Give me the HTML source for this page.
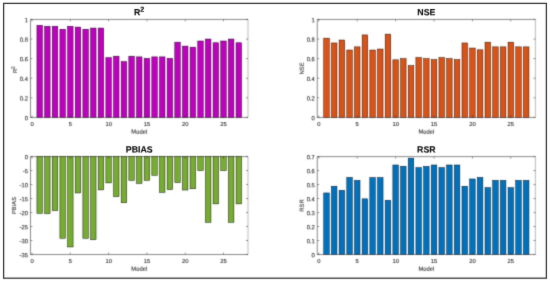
<!DOCTYPE html>
<html><head><meta charset="utf-8"><title>Model performance metrics</title>
<style>
html,body{margin:0;padding:0;background:#fff;}
body{width:550px;height:282px;overflow:hidden;}
svg{display:block;}
.t{font-family:"Liberation Sans",sans-serif;font-size:5.8px;fill:#242424;stroke:#242424;stroke-width:0.08px;}
.ti{font-family:"Liberation Sans",sans-serif;font-size:8.8px;font-weight:bold;fill:#0a0a0a;stroke:#0a0a0a;stroke-width:0.1px;}
</style></head><body>
<svg width="550" height="282" viewBox="0 0 550 282">
<defs><filter id="soft" x="0" y="0" width="550" height="282" filterUnits="userSpaceOnUse"><feConvolveMatrix order="3" kernelMatrix="0.0225 0.1050 0.0225 0.1050 0.4900 0.1050 0.0225 0.1050 0.0225" divisor="1" edgeMode="duplicate" preserveAlpha="false"/></filter><filter id="soft2" x="0" y="0" width="550" height="282" filterUnits="userSpaceOnUse"><feConvolveMatrix order="3" kernelMatrix="0.0081 0.0738 0.0081 0.0738 0.6724 0.0738 0.0081 0.0738 0.0081" divisor="1" edgeMode="duplicate" preserveAlpha="false"/></filter></defs>
<rect x="0" y="0" width="550" height="282" fill="#fff"/>
<g filter="url(#soft)">
<rect x="36.93" y="25.33" width="5.51" height="92.12" fill="#bf00bf" stroke="#000" stroke-width="0.5"/>
<rect x="44.59" y="26.31" width="5.51" height="91.14" fill="#bf00bf" stroke="#000" stroke-width="0.5"/>
<rect x="52.25" y="26.31" width="5.51" height="91.14" fill="#bf00bf" stroke="#000" stroke-width="0.5"/>
<rect x="59.91" y="29.25" width="5.51" height="88.20" fill="#bf00bf" stroke="#000" stroke-width="0.5"/>
<rect x="67.57" y="26.31" width="5.51" height="91.14" fill="#bf00bf" stroke="#000" stroke-width="0.5"/>
<rect x="75.23" y="27.09" width="5.51" height="90.36" fill="#bf00bf" stroke="#000" stroke-width="0.5"/>
<rect x="82.88" y="29.25" width="5.51" height="88.20" fill="#bf00bf" stroke="#000" stroke-width="0.5"/>
<rect x="90.54" y="28.07" width="5.51" height="89.38" fill="#bf00bf" stroke="#000" stroke-width="0.5"/>
<rect x="98.20" y="28.07" width="5.51" height="89.38" fill="#bf00bf" stroke="#000" stroke-width="0.5"/>
<rect x="105.86" y="57.67" width="5.51" height="59.78" fill="#bf00bf" stroke="#000" stroke-width="0.5"/>
<rect x="113.52" y="56.20" width="5.51" height="61.25" fill="#bf00bf" stroke="#000" stroke-width="0.5"/>
<rect x="121.18" y="61.59" width="5.51" height="55.86" fill="#bf00bf" stroke="#000" stroke-width="0.5"/>
<rect x="128.83" y="56.20" width="5.51" height="61.25" fill="#bf00bf" stroke="#000" stroke-width="0.5"/>
<rect x="136.49" y="56.89" width="5.51" height="60.56" fill="#bf00bf" stroke="#000" stroke-width="0.5"/>
<rect x="144.15" y="58.36" width="5.51" height="59.09" fill="#bf00bf" stroke="#000" stroke-width="0.5"/>
<rect x="151.81" y="56.89" width="5.51" height="60.56" fill="#bf00bf" stroke="#000" stroke-width="0.5"/>
<rect x="159.47" y="56.89" width="5.51" height="60.56" fill="#bf00bf" stroke="#000" stroke-width="0.5"/>
<rect x="167.13" y="58.36" width="5.51" height="59.09" fill="#bf00bf" stroke="#000" stroke-width="0.5"/>
<rect x="174.79" y="42.19" width="5.51" height="75.26" fill="#bf00bf" stroke="#000" stroke-width="0.5"/>
<rect x="182.44" y="46.11" width="5.51" height="71.34" fill="#bf00bf" stroke="#000" stroke-width="0.5"/>
<rect x="190.10" y="47.18" width="5.51" height="70.27" fill="#bf00bf" stroke="#000" stroke-width="0.5"/>
<rect x="197.76" y="41.01" width="5.51" height="76.44" fill="#bf00bf" stroke="#000" stroke-width="0.5"/>
<rect x="205.42" y="39.05" width="5.51" height="78.40" fill="#bf00bf" stroke="#000" stroke-width="0.5"/>
<rect x="213.08" y="42.77" width="5.51" height="74.68" fill="#bf00bf" stroke="#000" stroke-width="0.5"/>
<rect x="220.74" y="41.01" width="5.51" height="76.44" fill="#bf00bf" stroke="#000" stroke-width="0.5"/>
<rect x="228.39" y="39.05" width="5.51" height="78.40" fill="#bf00bf" stroke="#000" stroke-width="0.5"/>
<rect x="236.05" y="42.77" width="5.51" height="74.68" fill="#bf00bf" stroke="#000" stroke-width="0.5"/>
<path d="M248.00 19.45H30.50V117.45H248.00" fill="none" stroke="#262626" stroke-width="0.5"/>
<path d="M248.00 19.45V117.45" fill="none" stroke="#262626" stroke-width="0.32"/>
<text transform="translate(32.03 126.05) rotate(0.2) scale(1 1.0)" text-anchor="middle" class="t">0</text>
<text transform="translate(70.32 126.05) rotate(0.2) scale(1 1.0)" text-anchor="middle" class="t">5</text>
<text transform="translate(108.62 126.05) rotate(0.2) scale(1 1.0)" text-anchor="middle" class="t">10</text>
<text transform="translate(146.91 126.05) rotate(0.2) scale(1 1.0)" text-anchor="middle" class="t">15</text>
<text transform="translate(185.20 126.05) rotate(0.2) scale(1 1.0)" text-anchor="middle" class="t">20</text>
<text transform="translate(223.49 126.05) rotate(0.2) scale(1 1.0)" text-anchor="middle" class="t">25</text>
<text transform="translate(27.90 120.15) rotate(0.2) scale(1 1.03)" text-anchor="end" class="t">0</text>
<text transform="translate(27.90 100.55) rotate(0.2) scale(1 1.03)" text-anchor="end" class="t">0.2</text>
<text transform="translate(27.90 80.95) rotate(0.2) scale(1 1.03)" text-anchor="end" class="t">0.4</text>
<text transform="translate(27.90 61.35) rotate(0.2) scale(1 1.03)" text-anchor="end" class="t">0.6</text>
<text transform="translate(27.90 41.75) rotate(0.2) scale(1 1.03)" text-anchor="end" class="t">0.8</text>
<text transform="translate(27.90 22.15) rotate(0.2) scale(1 1.03)" text-anchor="end" class="t">1</text>
<path d="M32.03 117.45v-1.9M32.03 19.45v1.9M70.32 117.45v-1.9M70.32 19.45v1.9M108.62 117.45v-1.9M108.62 19.45v1.9M146.91 117.45v-1.9M146.91 19.45v1.9M185.20 117.45v-1.9M185.20 19.45v1.9M223.49 117.45v-1.9M223.49 19.45v1.9M30.50 117.45h1.9M248.00 117.45h-1.9M30.50 97.85h1.9M248.00 97.85h-1.9M30.50 78.25h1.9M248.00 78.25h-1.9M30.50 58.65h1.9M248.00 58.65h-1.9M30.50 39.05h1.9M248.00 39.05h-1.9M30.50 19.45h1.9M248.00 19.45h-1.9" stroke="#262626" stroke-width="0.5" fill="none"/>
<text transform="translate(139.25 133.65) rotate(0.2) scale(1 1.03)" text-anchor="middle" class="t">Model</text>
<text transform="translate(17.00 69.65) rotate(-90.2)" text-anchor="middle" class="t">R<tspan dy="-2.2" font-size="4.8">2</tspan></text>
<rect x="323.75" y="38.17" width="5.53" height="79.28" fill="#d95319" stroke="#000" stroke-width="0.5"/>
<rect x="331.43" y="42.97" width="5.53" height="74.48" fill="#d95319" stroke="#000" stroke-width="0.5"/>
<rect x="339.11" y="40.03" width="5.53" height="77.42" fill="#d95319" stroke="#000" stroke-width="0.5"/>
<rect x="346.79" y="50.03" width="5.53" height="67.42" fill="#d95319" stroke="#000" stroke-width="0.5"/>
<rect x="354.47" y="46.89" width="5.53" height="70.56" fill="#d95319" stroke="#000" stroke-width="0.5"/>
<rect x="362.15" y="34.93" width="5.53" height="82.52" fill="#d95319" stroke="#000" stroke-width="0.5"/>
<rect x="369.83" y="50.03" width="5.53" height="67.42" fill="#d95319" stroke="#000" stroke-width="0.5"/>
<rect x="377.51" y="49.05" width="5.53" height="68.40" fill="#d95319" stroke="#000" stroke-width="0.5"/>
<rect x="385.19" y="34.15" width="5.53" height="83.30" fill="#d95319" stroke="#000" stroke-width="0.5"/>
<rect x="392.87" y="59.83" width="5.53" height="57.62" fill="#d95319" stroke="#000" stroke-width="0.5"/>
<rect x="400.55" y="58.65" width="5.53" height="58.80" fill="#d95319" stroke="#000" stroke-width="0.5"/>
<rect x="408.23" y="65.61" width="5.53" height="51.84" fill="#d95319" stroke="#000" stroke-width="0.5"/>
<rect x="415.91" y="57.57" width="5.53" height="59.88" fill="#d95319" stroke="#000" stroke-width="0.5"/>
<rect x="423.59" y="58.65" width="5.53" height="58.80" fill="#d95319" stroke="#000" stroke-width="0.5"/>
<rect x="431.26" y="59.63" width="5.53" height="57.82" fill="#d95319" stroke="#000" stroke-width="0.5"/>
<rect x="438.94" y="57.57" width="5.53" height="59.88" fill="#d95319" stroke="#000" stroke-width="0.5"/>
<rect x="446.62" y="58.65" width="5.53" height="58.80" fill="#d95319" stroke="#000" stroke-width="0.5"/>
<rect x="454.30" y="59.63" width="5.53" height="57.82" fill="#d95319" stroke="#000" stroke-width="0.5"/>
<rect x="461.98" y="42.97" width="5.53" height="74.48" fill="#d95319" stroke="#000" stroke-width="0.5"/>
<rect x="469.66" y="48.07" width="5.53" height="69.38" fill="#d95319" stroke="#000" stroke-width="0.5"/>
<rect x="477.34" y="49.83" width="5.53" height="67.62" fill="#d95319" stroke="#000" stroke-width="0.5"/>
<rect x="485.02" y="42.19" width="5.53" height="75.26" fill="#d95319" stroke="#000" stroke-width="0.5"/>
<rect x="492.70" y="46.89" width="5.53" height="70.56" fill="#d95319" stroke="#000" stroke-width="0.5"/>
<rect x="500.38" y="46.89" width="5.53" height="70.56" fill="#d95319" stroke="#000" stroke-width="0.5"/>
<rect x="508.06" y="42.19" width="5.53" height="75.26" fill="#d95319" stroke="#000" stroke-width="0.5"/>
<rect x="515.74" y="46.89" width="5.53" height="70.56" fill="#d95319" stroke="#000" stroke-width="0.5"/>
<rect x="523.42" y="46.89" width="5.53" height="70.56" fill="#d95319" stroke="#000" stroke-width="0.5"/>
<path d="M535.40 19.45H317.30V117.45H535.40" fill="none" stroke="#262626" stroke-width="0.5"/>
<path d="M535.40 19.45V117.45" fill="none" stroke="#262626" stroke-width="0.32"/>
<text transform="translate(318.84 126.05) rotate(0.2) scale(1 1.0)" text-anchor="middle" class="t">0</text>
<text transform="translate(357.23 126.05) rotate(0.2) scale(1 1.0)" text-anchor="middle" class="t">5</text>
<text transform="translate(395.63 126.05) rotate(0.2) scale(1 1.0)" text-anchor="middle" class="t">10</text>
<text transform="translate(434.03 126.05) rotate(0.2) scale(1 1.0)" text-anchor="middle" class="t">15</text>
<text transform="translate(472.43 126.05) rotate(0.2) scale(1 1.0)" text-anchor="middle" class="t">20</text>
<text transform="translate(510.83 126.05) rotate(0.2) scale(1 1.0)" text-anchor="middle" class="t">25</text>
<text transform="translate(314.70 120.15) rotate(0.2) scale(1 1.03)" text-anchor="end" class="t">0</text>
<text transform="translate(314.70 100.55) rotate(0.2) scale(1 1.03)" text-anchor="end" class="t">0.2</text>
<text transform="translate(314.70 80.95) rotate(0.2) scale(1 1.03)" text-anchor="end" class="t">0.4</text>
<text transform="translate(314.70 61.35) rotate(0.2) scale(1 1.03)" text-anchor="end" class="t">0.6</text>
<text transform="translate(314.70 41.75) rotate(0.2) scale(1 1.03)" text-anchor="end" class="t">0.8</text>
<text transform="translate(314.70 22.15) rotate(0.2) scale(1 1.03)" text-anchor="end" class="t">1</text>
<path d="M318.84 117.45v-1.9M318.84 19.45v1.9M357.23 117.45v-1.9M357.23 19.45v1.9M395.63 117.45v-1.9M395.63 19.45v1.9M434.03 117.45v-1.9M434.03 19.45v1.9M472.43 117.45v-1.9M472.43 19.45v1.9M510.83 117.45v-1.9M510.83 19.45v1.9M317.30 117.45h1.9M535.40 117.45h-1.9M317.30 97.85h1.9M535.40 97.85h-1.9M317.30 78.25h1.9M535.40 78.25h-1.9M317.30 58.65h1.9M535.40 58.65h-1.9M317.30 39.05h1.9M535.40 39.05h-1.9M317.30 19.45h1.9M535.40 19.45h-1.9" stroke="#262626" stroke-width="0.5" fill="none"/>
<text transform="translate(426.35 133.65) rotate(0.2) scale(1 1.03)" text-anchor="middle" class="t">Model</text>
<text transform="translate(303.80 68.45) rotate(-90.2)" text-anchor="middle" class="t">NSE</text>
<rect x="36.93" y="156.60" width="5.51" height="56.78" fill="#77ac30" stroke="#000" stroke-width="0.5"/>
<rect x="44.59" y="156.60" width="5.51" height="57.06" fill="#77ac30" stroke="#000" stroke-width="0.5"/>
<rect x="52.25" y="156.60" width="5.51" height="53.98" fill="#77ac30" stroke="#000" stroke-width="0.5"/>
<rect x="59.91" y="156.60" width="5.51" height="81.68" fill="#77ac30" stroke="#000" stroke-width="0.5"/>
<rect x="67.57" y="156.60" width="5.51" height="90.35" fill="#77ac30" stroke="#000" stroke-width="0.5"/>
<rect x="75.23" y="156.60" width="5.51" height="36.36" fill="#77ac30" stroke="#000" stroke-width="0.5"/>
<rect x="82.88" y="156.60" width="5.51" height="81.68" fill="#77ac30" stroke="#000" stroke-width="0.5"/>
<rect x="90.54" y="156.60" width="5.51" height="83.08" fill="#77ac30" stroke="#000" stroke-width="0.5"/>
<rect x="98.20" y="156.60" width="5.51" height="33.29" fill="#77ac30" stroke="#000" stroke-width="0.5"/>
<rect x="105.86" y="156.60" width="5.51" height="26.29" fill="#77ac30" stroke="#000" stroke-width="0.5"/>
<rect x="113.52" y="156.60" width="5.51" height="40.00" fill="#77ac30" stroke="#000" stroke-width="0.5"/>
<rect x="121.18" y="156.60" width="5.51" height="46.15" fill="#77ac30" stroke="#000" stroke-width="0.5"/>
<rect x="128.83" y="156.60" width="5.51" height="23.78" fill="#77ac30" stroke="#000" stroke-width="0.5"/>
<rect x="136.49" y="156.60" width="5.51" height="26.85" fill="#77ac30" stroke="#000" stroke-width="0.5"/>
<rect x="144.15" y="156.60" width="5.51" height="23.78" fill="#77ac30" stroke="#000" stroke-width="0.5"/>
<rect x="151.81" y="156.60" width="5.51" height="18.74" fill="#77ac30" stroke="#000" stroke-width="0.5"/>
<rect x="159.47" y="156.60" width="5.51" height="35.80" fill="#77ac30" stroke="#000" stroke-width="0.5"/>
<rect x="167.13" y="156.60" width="5.51" height="33.01" fill="#77ac30" stroke="#000" stroke-width="0.5"/>
<rect x="174.79" y="156.60" width="5.51" height="26.01" fill="#77ac30" stroke="#000" stroke-width="0.5"/>
<rect x="182.44" y="156.60" width="5.51" height="33.43" fill="#77ac30" stroke="#000" stroke-width="0.5"/>
<rect x="190.10" y="156.60" width="5.51" height="32.17" fill="#77ac30" stroke="#000" stroke-width="0.5"/>
<rect x="197.76" y="156.60" width="5.51" height="13.99" fill="#77ac30" stroke="#000" stroke-width="0.5"/>
<rect x="205.42" y="156.60" width="5.51" height="65.73" fill="#77ac30" stroke="#000" stroke-width="0.5"/>
<rect x="213.08" y="156.60" width="5.51" height="47.27" fill="#77ac30" stroke="#000" stroke-width="0.5"/>
<rect x="220.74" y="156.60" width="5.51" height="13.99" fill="#77ac30" stroke="#000" stroke-width="0.5"/>
<rect x="228.39" y="156.60" width="5.51" height="65.73" fill="#77ac30" stroke="#000" stroke-width="0.5"/>
<rect x="236.05" y="156.60" width="5.51" height="47.27" fill="#77ac30" stroke="#000" stroke-width="0.5"/>
<path d="M248.00 156.60H30.50V254.50H248.00" fill="none" stroke="#262626" stroke-width="0.5"/>
<path d="M248.00 156.60V254.50" fill="none" stroke="#262626" stroke-width="0.32"/>
<text transform="translate(32.03 263.10) rotate(0.2) scale(1 1.0)" text-anchor="middle" class="t">0</text>
<text transform="translate(70.32 263.10) rotate(0.2) scale(1 1.0)" text-anchor="middle" class="t">5</text>
<text transform="translate(108.62 263.10) rotate(0.2) scale(1 1.0)" text-anchor="middle" class="t">10</text>
<text transform="translate(146.91 263.10) rotate(0.2) scale(1 1.0)" text-anchor="middle" class="t">15</text>
<text transform="translate(185.20 263.10) rotate(0.2) scale(1 1.0)" text-anchor="middle" class="t">20</text>
<text transform="translate(223.49 263.10) rotate(0.2) scale(1 1.0)" text-anchor="middle" class="t">25</text>
<text transform="translate(27.90 257.20) rotate(0.2) scale(1 1.03)" text-anchor="end" class="t">-35</text>
<text transform="translate(27.90 243.21) rotate(0.2) scale(1 1.03)" text-anchor="end" class="t">-30</text>
<text transform="translate(27.90 229.23) rotate(0.2) scale(1 1.03)" text-anchor="end" class="t">-25</text>
<text transform="translate(27.90 215.24) rotate(0.2) scale(1 1.03)" text-anchor="end" class="t">-20</text>
<text transform="translate(27.90 201.26) rotate(0.2) scale(1 1.03)" text-anchor="end" class="t">-15</text>
<text transform="translate(27.90 187.27) rotate(0.2) scale(1 1.03)" text-anchor="end" class="t">-10</text>
<text transform="translate(27.90 173.29) rotate(0.2) scale(1 1.03)" text-anchor="end" class="t">-5</text>
<text transform="translate(27.90 159.30) rotate(0.2) scale(1 1.03)" text-anchor="end" class="t">0</text>
<path d="M32.03 254.50v-1.9M32.03 156.60v1.9M70.32 254.50v-1.9M70.32 156.60v1.9M108.62 254.50v-1.9M108.62 156.60v1.9M146.91 254.50v-1.9M146.91 156.60v1.9M185.20 254.50v-1.9M185.20 156.60v1.9M223.49 254.50v-1.9M223.49 156.60v1.9M30.50 254.50h1.9M248.00 254.50h-1.9M30.50 240.51h1.9M248.00 240.51h-1.9M30.50 226.53h1.9M248.00 226.53h-1.9M30.50 212.54h1.9M248.00 212.54h-1.9M30.50 198.56h1.9M248.00 198.56h-1.9M30.50 184.57h1.9M248.00 184.57h-1.9M30.50 170.59h1.9M248.00 170.59h-1.9M30.50 156.60h1.9M248.00 156.60h-1.9" stroke="#262626" stroke-width="0.5" fill="none"/>
<text transform="translate(139.25 270.70) rotate(0.2) scale(1 1.03)" text-anchor="middle" class="t">Model</text>
<text transform="translate(16.00 205.55) rotate(-90.2)" text-anchor="middle" class="t">PBIAS</text>
<rect x="323.75" y="192.96" width="5.53" height="61.54" fill="#0072bd" stroke="#000" stroke-width="0.5"/>
<rect x="331.43" y="186.25" width="5.53" height="68.25" fill="#0072bd" stroke="#000" stroke-width="0.5"/>
<rect x="339.11" y="190.31" width="5.53" height="64.19" fill="#0072bd" stroke="#000" stroke-width="0.5"/>
<rect x="346.79" y="177.44" width="5.53" height="77.06" fill="#0072bd" stroke="#000" stroke-width="0.5"/>
<rect x="354.47" y="180.38" width="5.53" height="74.12" fill="#0072bd" stroke="#000" stroke-width="0.5"/>
<rect x="362.15" y="198.84" width="5.53" height="55.66" fill="#0072bd" stroke="#000" stroke-width="0.5"/>
<rect x="369.83" y="177.58" width="5.53" height="76.92" fill="#0072bd" stroke="#000" stroke-width="0.5"/>
<rect x="377.51" y="177.58" width="5.53" height="76.92" fill="#0072bd" stroke="#000" stroke-width="0.5"/>
<rect x="385.19" y="200.24" width="5.53" height="54.26" fill="#0072bd" stroke="#000" stroke-width="0.5"/>
<rect x="392.87" y="164.99" width="5.53" height="89.51" fill="#0072bd" stroke="#000" stroke-width="0.5"/>
<rect x="400.55" y="166.25" width="5.53" height="88.25" fill="#0072bd" stroke="#000" stroke-width="0.5"/>
<rect x="408.23" y="158.14" width="5.53" height="96.36" fill="#0072bd" stroke="#000" stroke-width="0.5"/>
<rect x="415.91" y="167.65" width="5.53" height="86.85" fill="#0072bd" stroke="#000" stroke-width="0.5"/>
<rect x="423.59" y="166.39" width="5.53" height="88.11" fill="#0072bd" stroke="#000" stroke-width="0.5"/>
<rect x="431.26" y="164.99" width="5.53" height="89.51" fill="#0072bd" stroke="#000" stroke-width="0.5"/>
<rect x="438.94" y="167.65" width="5.53" height="86.85" fill="#0072bd" stroke="#000" stroke-width="0.5"/>
<rect x="446.62" y="164.99" width="5.53" height="89.51" fill="#0072bd" stroke="#000" stroke-width="0.5"/>
<rect x="454.30" y="164.99" width="5.53" height="89.51" fill="#0072bd" stroke="#000" stroke-width="0.5"/>
<rect x="461.98" y="186.25" width="5.53" height="68.25" fill="#0072bd" stroke="#000" stroke-width="0.5"/>
<rect x="469.66" y="178.98" width="5.53" height="75.52" fill="#0072bd" stroke="#000" stroke-width="0.5"/>
<rect x="477.34" y="177.44" width="5.53" height="77.06" fill="#0072bd" stroke="#000" stroke-width="0.5"/>
<rect x="485.02" y="187.65" width="5.53" height="66.85" fill="#0072bd" stroke="#000" stroke-width="0.5"/>
<rect x="492.70" y="180.38" width="5.53" height="74.12" fill="#0072bd" stroke="#000" stroke-width="0.5"/>
<rect x="500.38" y="180.38" width="5.53" height="74.12" fill="#0072bd" stroke="#000" stroke-width="0.5"/>
<rect x="508.06" y="187.65" width="5.53" height="66.85" fill="#0072bd" stroke="#000" stroke-width="0.5"/>
<rect x="515.74" y="180.38" width="5.53" height="74.12" fill="#0072bd" stroke="#000" stroke-width="0.5"/>
<rect x="523.42" y="180.38" width="5.53" height="74.12" fill="#0072bd" stroke="#000" stroke-width="0.5"/>
<path d="M535.40 156.60H317.30V254.50H535.40" fill="none" stroke="#262626" stroke-width="0.5"/>
<path d="M535.40 156.60V254.50" fill="none" stroke="#262626" stroke-width="0.32"/>
<text transform="translate(318.84 263.10) rotate(0.2) scale(1 1.0)" text-anchor="middle" class="t">0</text>
<text transform="translate(357.23 263.10) rotate(0.2) scale(1 1.0)" text-anchor="middle" class="t">5</text>
<text transform="translate(395.63 263.10) rotate(0.2) scale(1 1.0)" text-anchor="middle" class="t">10</text>
<text transform="translate(434.03 263.10) rotate(0.2) scale(1 1.0)" text-anchor="middle" class="t">15</text>
<text transform="translate(472.43 263.10) rotate(0.2) scale(1 1.0)" text-anchor="middle" class="t">20</text>
<text transform="translate(510.83 263.10) rotate(0.2) scale(1 1.0)" text-anchor="middle" class="t">25</text>
<text transform="translate(314.70 257.20) rotate(0.2) scale(1 1.03)" text-anchor="end" class="t">0</text>
<text transform="translate(314.70 243.21) rotate(0.2) scale(1 1.03)" text-anchor="end" class="t">0.1</text>
<text transform="translate(314.70 229.23) rotate(0.2) scale(1 1.03)" text-anchor="end" class="t">0.2</text>
<text transform="translate(314.70 215.24) rotate(0.2) scale(1 1.03)" text-anchor="end" class="t">0.3</text>
<text transform="translate(314.70 201.26) rotate(0.2) scale(1 1.03)" text-anchor="end" class="t">0.4</text>
<text transform="translate(314.70 187.27) rotate(0.2) scale(1 1.03)" text-anchor="end" class="t">0.5</text>
<text transform="translate(314.70 173.29) rotate(0.2) scale(1 1.03)" text-anchor="end" class="t">0.6</text>
<text transform="translate(314.70 159.30) rotate(0.2) scale(1 1.03)" text-anchor="end" class="t">0.7</text>
<path d="M318.84 254.50v-1.9M318.84 156.60v1.9M357.23 254.50v-1.9M357.23 156.60v1.9M395.63 254.50v-1.9M395.63 156.60v1.9M434.03 254.50v-1.9M434.03 156.60v1.9M472.43 254.50v-1.9M472.43 156.60v1.9M510.83 254.50v-1.9M510.83 156.60v1.9M317.30 254.50h1.9M535.40 254.50h-1.9M317.30 240.51h1.9M535.40 240.51h-1.9M317.30 226.53h1.9M535.40 226.53h-1.9M317.30 212.54h1.9M535.40 212.54h-1.9M317.30 198.56h1.9M535.40 198.56h-1.9M317.30 184.57h1.9M535.40 184.57h-1.9M317.30 170.59h1.9M535.40 170.59h-1.9M317.30 156.60h1.9M535.40 156.60h-1.9" stroke="#262626" stroke-width="0.5" fill="none"/>
<text transform="translate(426.35 270.70) rotate(0.2) scale(1 1.03)" text-anchor="middle" class="t">Model</text>
<text transform="translate(303.80 205.55) rotate(-90.2)" text-anchor="middle" class="t">RSR</text>
</g>
<g filter="url(#soft2)">
<rect x="3.6" y="3.4" width="542.8" height="274.8" fill="none" stroke="#2a2a2a" stroke-width="1.2"/>
<text transform="translate(139.15 15.35) rotate(0.2) scale(1 1.02)" text-anchor="middle" class="ti">R<tspan dy="-3.5" font-size="7.2">2</tspan></text>
<text transform="translate(426.35 15.35) rotate(0.2) scale(1 1.02)" text-anchor="middle" class="ti">NSE</text>
<text transform="translate(139.25 152.50) rotate(0.2) scale(1 1.02)" text-anchor="middle" class="ti">PBIAS</text>
<text transform="translate(426.35 152.50) rotate(0.2) scale(1 1.02)" text-anchor="middle" class="ti">RSR</text>
</g>
</svg>
</body></html>
